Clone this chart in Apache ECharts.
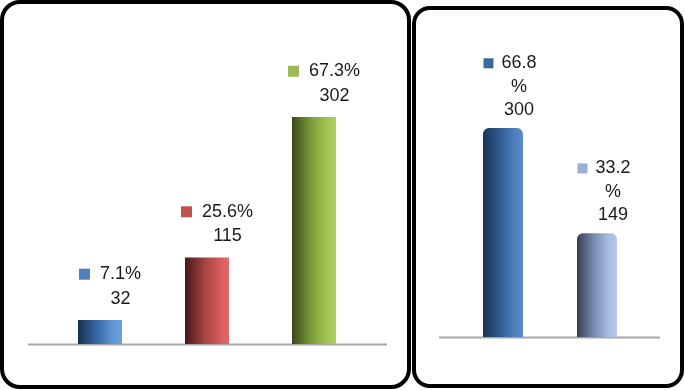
<!DOCTYPE html>
<html>
<head>
<meta charset="utf-8">
<script src="https://cdn.jsdelivr.net/npm/echarts@6/dist/echarts.min.js"></script>
<style>html,body{margin:0;padding:0;background:#fff}#c{width:685px;height:390px}</style>
</head>
<body>
<div id="c"></div>
<script>
// Left chart data
var leftCategories = ['A', 'B', 'C'];
var leftValues = [32, 115, 302];
var leftPercents = ['7.1%', '25.6%', '67.3%'];
// Right chart data
var rightCategories = ['D', 'E'];
var rightValues = [300, 149];
var rightPercents = ['66.8', '33.2'];

var leftColors = [
  ['#16304f', '#3b6aa6', '#5f96d6', '#6aa0dc'],
  ['#4a1818', '#a54442', '#d65c5c', '#df6b6b'],
  ['#38491a', '#7f9f38', '#a2c556', '#acd060']
];
var leftKeys = ['#4f81bd', '#c0504d', '#9bbb59'];
var rightColors = [
  ['#1a3354', '#325e95', '#4f80bd', '#5a8cca'],
  ['#343f50', '#7c90b5', '#a7bde3', '#b5c8ea']
];
var rightKeys = ['#3a679e', '#9aaed3'];

function grad(c) {
  return new echarts.graphic.LinearGradient(0, 0, 1, 0, [
    {offset: 0, color: c[0]}, {offset: 0.45, color: c[1]},
    {offset: 0.8, color: c[2]}, {offset: 1, color: c[3]}
  ]);
}

var FONT = {fontFamily: 'Liberation Sans', fontSize: 18, color: '#1a1a1a'};

function richFor(color, lh, sqw, gapw) {
  return {
    sq: {width: sqw, height: sqw, backgroundColor: color, lineHeight: lh, verticalAlign: 'middle'},
    gap: {width: gapw, lineHeight: lh},
    sp: {width: sqw + gapw, lineHeight: lh},
    t: {fontFamily: FONT.fontFamily, fontSize: FONT.fontSize, color: FONT.color, lineHeight: lh}
  };
}

var leftData = leftValues.map(function (v, i) {
  return {
    value: v,
    itemStyle: {color: grad(leftColors[i])},
    label: {
      show: true, position: 'top', distance: 9, offset: [10, 0], align: 'center',
      formatter: '{sq|}{gap|}{t|' + leftPercents[i] + '}\n{sp|}{t|' + v + '}',
      rich: richFor(leftKeys[i], 24.5, 11, 10)
    }
  };
});
var rightData = rightValues.map(function (v, i) {
  return {
    value: v,
    itemStyle: {color: grad(rightColors[i]), borderRadius: [6, 6, 0, 0]},
    label: {
      show: true, position: 'top', distance: 6, offset: [7, 0], align: 'center',
      formatter: '{sq|}{gap|}{t|' + rightPercents[i] + '}\n{sp|}{t|%}\n{sp|}{t|' + v + '}',
      rich: richFor(rightKeys[i], 23.5, 10, 8)
    }
  };
});

var chart = echarts.init(document.getElementById('c'), null, {renderer: 'canvas'});
chart.setOption({
  animation: false,
  backgroundColor: '#ffffff',
  graphic: [
    {type: 'rect', shape: {x: 2, y: 2, width: 407, height: 385, r: 18},
      style: {fill: 'none', stroke: '#000', lineWidth: 4}, z: 10},
    {type: 'rect', shape: {x: 414, y: 8, width: 268, height: 378, r: 16},
      style: {fill: 'none', stroke: '#000', lineWidth: 4}, z: 10},
    {type: 'line', shape: {x1: 28, y1: 344.5, x2: 387, y2: 344.5},
      style: {stroke: '#a6a6a6', lineWidth: 2}, z: 0},
    {type: 'line', shape: {x1: 439, y1: 337.5, x2: 660, y2: 337.5},
      style: {stroke: '#a6a6a6', lineWidth: 2}, z: 0}
  ],
  grid: [
    {left: 46.5, width: 321, top: 80.9, height: 263.1},
    {left: 456, width: 188, top: 93.2, height: 243.8}
  ],
  xAxis: [
    {type: 'category', gridIndex: 0, data: leftCategories, axisLine: {show: false},
      axisTick: {show: false}, axisLabel: {show: false}},
    {type: 'category', gridIndex: 1, data: rightCategories, axisLine: {show: false},
      axisTick: {show: false}, axisLabel: {show: false}}
  ],
  yAxis: [
    {type: 'value', gridIndex: 0, min: 0, max: 350, show: false, splitLine: {show: false}},
    {type: 'value', gridIndex: 1, min: 0, max: 350, show: false, splitLine: {show: false}}
  ],
  series: [
    {type: 'bar', xAxisIndex: 0, yAxisIndex: 0, barWidth: 44, data: leftData, z: 2},
    {type: 'bar', xAxisIndex: 1, yAxisIndex: 1, barWidth: 40, data: rightData, z: 2}
  ]
});
</script>
</body>
</html>
